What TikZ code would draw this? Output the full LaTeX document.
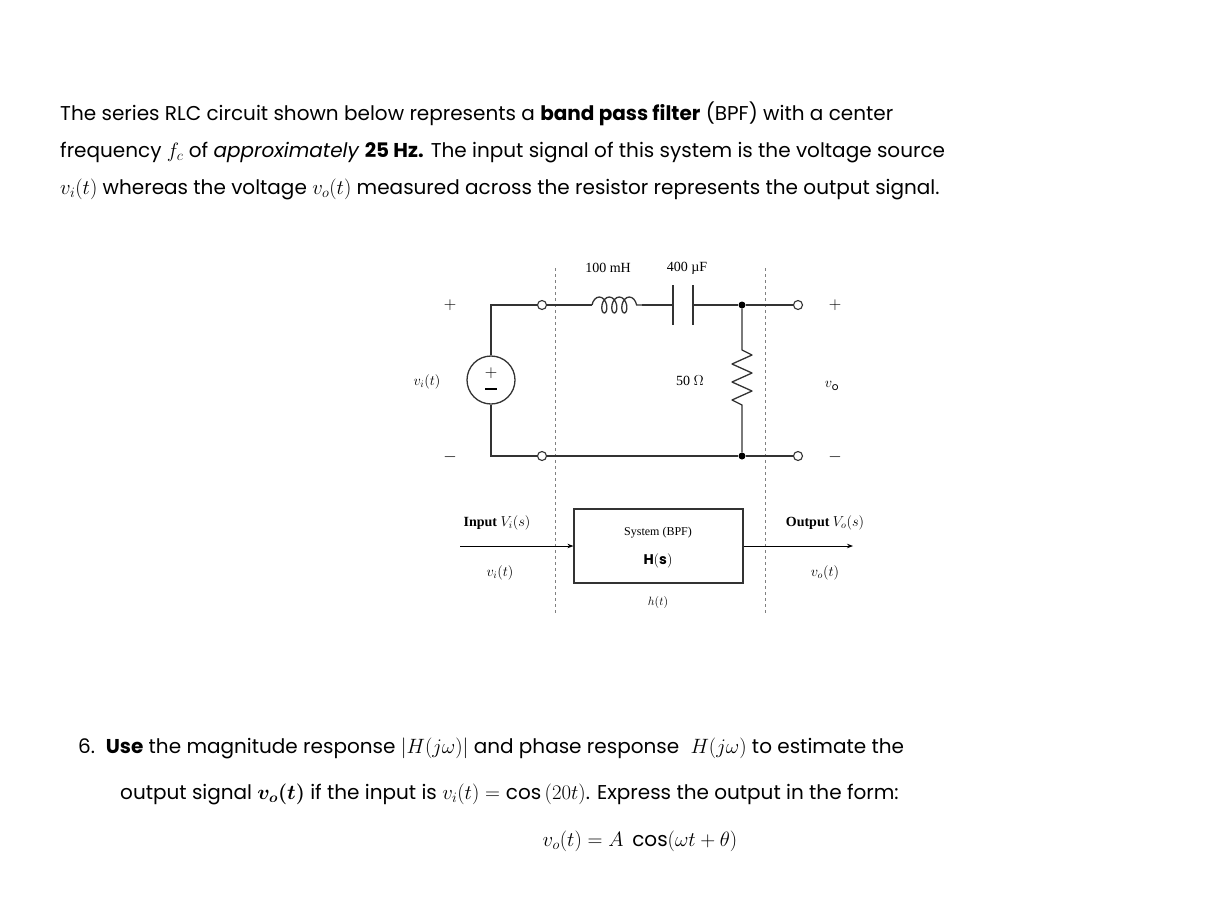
\documentclass[tikz,border=0pt]{standalone}
\usepackage{fontspec}
\usepackage{amsmath}
\setmainfont{Poppins}
\newfontfamily\tms{Liberation Serif}
\usetikzlibrary{decorations.pathmorphing,arrows.meta}
\begin{document}
\begin{tikzpicture}[x=1pt,y=-1pt,
  wire/.style={line width=1.3pt,color=black!80},
  term/.style={circle,draw=black!80,line width=1.1pt,fill=white,inner sep=0,minimum size=9pt},
  dot/.style={circle,fill=black,inner sep=0,minimum size=7pt},
  dsh/.style={dashed,line width=0.5pt,black!50},
  para/.style={anchor=base west,inner sep=0,font=\fontsize{20}{24}\selectfont},
  ckt/.style={inner sep=0,font=\tms\fontsize{14}{16}\selectfont}]
\useasboundingbox (0,0) rectangle (1223,897);
% paragraph
\node[para] (p1) at (60,120) {The series RLC circuit shown below represents a \textbf{band pass filter} (BPF) with a center};
\node[para] (p2) at (60,157) {frequency $f_c$ of \textit{approximately} \textbf{25 Hz.} The input signal of this system is the voltage source};
\node[para] (p3) at (60,194) {$v_i(t)$ whereas the voltage $v_o(t)$ measured across the resistor represents the output signal.};
% dashed lines
\draw[dsh] (555,268) -- (555,615);
\draw[dsh] (765,268) -- (765,615);
% circuit
\node[term] (tl) at (542,305) {};
\node[term] (bl) at (542,456) {};
\node[term] (tr) at (798,305) {};
\node[term] (br) at (798,456) {};
\node[dot] (nt) at (742,305) {};
\node[dot] (nb) at (742,456) {};
\node[circle,draw=black!80,line width=1.3pt,minimum size=48pt,inner sep=0] (src) at (491,380) {};
\node[font=\fontsize{16}{16}\selectfont] at (491,373) {$+$};
\draw[line width=1.2pt] (485,389) -- (497,389);
\coordinate (ls) at (592,305); \coordinate (le) at (642,305);
\coordinate (c1) at (673,305); \coordinate (c2) at (693,305);
\draw[wire] (src.north) |- (tl);
\draw[wire] (src.south) |- (bl);
\draw[wire] (tl) -- (ls);
\draw[wire,decorate,decoration={coil,aspect=0.6,segment length=10pt,amplitude=8pt,pre length=0pt,post length=0pt}] (ls) -- (le);
\draw[wire] (le) -- (c1);
\draw[wire] (c1)+(0,-20) -- +(0,20);
\draw[wire] (c2)+(0,-20) -- +(0,20);
\draw[wire] (c2) -- (nt) -- (tr);
\draw[wire] (bl) -- (nb) -- (br);
\draw[wire,line join=round] (nt) -- (742,350) -- (752,355) -- (732,364) -- (752,373) -- (732,382) -- (752,391) -- (732,400) -- (742,405) -- (nb);
\node[ckt] at (608,268) {100 mH};
\node[ckt] at (687,268) {400 \textmu F};
\node[ckt] at (690,381) {50 $\Omega$};
\node[font=\fontsize{18}{18}\selectfont] at (450,305) {$+$};
\node[font=\fontsize{18}{18}\selectfont] at (450,457) {$-$};
\node[font=\fontsize{18}{18}\selectfont] at (835,305) {$+$};
\node[font=\fontsize{18}{18}\selectfont] at (835,457) {$-$};
\node[ckt] at (427,382) {$v_i(t)$};
\node[ckt,font=\tms\fontsize{15}{16}\selectfont] at (832,386) {$v_{\mathrm o}$};
% block diagram
\node[draw=black!80,line width=1.2pt,minimum width=169pt,minimum height=74pt,inner sep=0] (box) at (658.5,546) {};
\coordinate (in) at (460,546); \coordinate (out) at (853,546);
\draw[line width=0.8pt,-{Stealth[length=6pt]}] (in) -- (box.west);
\draw[line width=0.8pt,-{Stealth[length=6pt]}] (box.east) -- (out);
\node[ckt,font=\tms\fontsize{12}{14}\selectfont] at (658,533) {System (BPF)};
\node[ckt] at (658,561) {$\mathbf{H(s)}$};
\node[ckt,font=\tms\fontsize{12}{14}\selectfont] at (658,602) {$h(t)$};
\node[ckt] at (497,523) {\textbf{Input} $V_i(s)$};
\node[ckt] at (500,573) {$v_i(t)$};
\node[ckt] at (825,523) {\textbf{Output} $V_o(s)$};
\node[ckt] at (825,573) {$v_o(t)$};
% question
\node[para] (q1) at (78,753) {6.\ \ \textbf{Use} the magnitude response $|H(j\omega)|$ and phase response \hspace{6pt}$H(j\omega)$ to estimate the};
\node[para] (q2) at (120,799) {output signal $\boldsymbol{v_o(t)}$ if the input is $v_i(t)=\cos{(20t)}$. Express the output in the form:};
\node[anchor=base,inner sep=0,font=\fontsize{20}{24}\selectfont] (q3) at (640,846) {$v_o(t)=A\ \cos(\omega t+\theta)$};
\end{tikzpicture}
\end{document}
